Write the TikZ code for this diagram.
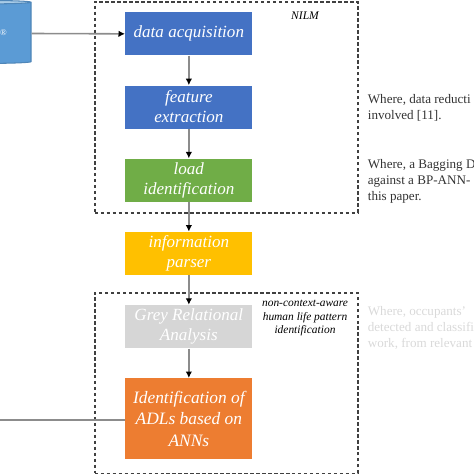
\documentclass[tikz,border=0pt]{standalone}
\usepackage{fontspec}
\setmainfont{Liberation Serif}
\usepackage{xcolor}
\usetikzlibrary{shapes.geometric,arrows.meta,positioning}
\definecolor{stepblue}{HTML}{4472C4}
\definecolor{stepgreen}{HTML}{70AD47}
\definecolor{stepyellow}{HTML}{FFC000}
\definecolor{stepgrey}{HTML}{D6D6D6}
\definecolor{steporange}{HTML}{ED7D31}
\definecolor{dbbody}{HTML}{5B9BD5}
\definecolor{dbend}{HTML}{A9CCE8}
\definecolor{dbedge}{HTML}{4F86B8}
\begin{document}
\begin{tikzpicture}[
  font=\fontsize{9.7}{11.4}\selectfont, node distance=5.9mm and 9mm,
  stage/.style={rectangle,align=center,text=white,font=\fontsize{9.7}{11.4}\selectfont\itshape,
                minimum height=8.6mm,minimum width=25.4mm,inner sep=0pt},
  frame/.style={rectangle,draw=black!75,dash pattern=on 2pt off 1.4pt,line width=0.9pt,anchor=north west,
                minimum width=52.6mm},
  note/.style={anchor=north west,align=left,inner sep=0pt,text=black!80,
               font=\fontsize{7.45}{9.1}\selectfont},
  tag/.style={align=center,inner sep=0pt,font=\fontsize{6.5}{7.8}\selectfont\itshape},
  arr/.style={-{Latex[length=1.3mm,width=1.3mm,color=black]},black!45,line width=0.9pt}]
\clip (0,0) rectangle (9.48,-9.48);
\useasboundingbox (0,0) rectangle (9.48,-9.48);
\node[frame,minimum height=42.2mm] (nilm) at (1.88,-0.02) {};
\node[frame,minimum height=36.1mm] (ctx) at (1.88,-5.84) {};
\node[stage,fill=stepblue,anchor=north west] (acq) at (2.5,-0.24) {data acquisition};
\node[stage,fill=stepblue,below=of acq] (fea) {feature\\extraction};
\node[stage,fill=stepgreen,below=of fea] (load) {load\\identification};
\node[stage,fill=stepyellow,below=of load] (par) {information\\parser};
\node[stage,fill=stepgrey,below=of par] (gra) {Grey Relational\\Analysis};
\node[stage,fill=steporange,below=of gra,minimum height=16.2mm,font=\fontsize{9.9}{12.2}\selectfont\itshape] (adl) {Identification of\\ADLs based on\\ANNs};
\node[cylinder,shape border rotate=90,aspect=0.3,draw=dbedge,line width=0.6pt,
      minimum width=18.4mm,minimum height=12.6mm,cylinder uses custom fill,
      cylinder body fill=dbbody,cylinder end fill=dbend] (db) at (-0.3,-0.67) {};
\node[text=white,font=\fontsize{5}{6}\selectfont] (reg) at (0.07,-0.66) {®};
\coordinate (out) at (0,-8.4);
\draw[arr] (db.east) -- (acq.west);
\draw[arr] (acq)--(fea); \draw[arr] (fea)--(load); \draw[arr] (load)--(par);
\draw[arr] (par)--(gra); \draw[arr] (gra)--(adl);
\draw[black!45,line width=0.6pt] (adl.west |- out) -- (out);
\node[tag,font=\fontsize{6.6}{8}\selectfont\itshape] (nilmtag) at (6.1,-0.31) {NILM};
\node[tag] (ctxtag) at (6.1,-6.36) {non-context-aware\\human life pattern\\identification};
\node[note] (n1) at (7.35,-1.89) {Where, data reducti\\involved [11].};
\node[note] (n2) at (7.35,-3.19) {Where, a Bagging D\\against a BP-ANN-\\this paper.};
\node[note,text=black!15] (n3) at (7.35,-6.12) {Where, occupants'\\detected and classifi\\work, from relevant};
\end{tikzpicture}
\end{document}
